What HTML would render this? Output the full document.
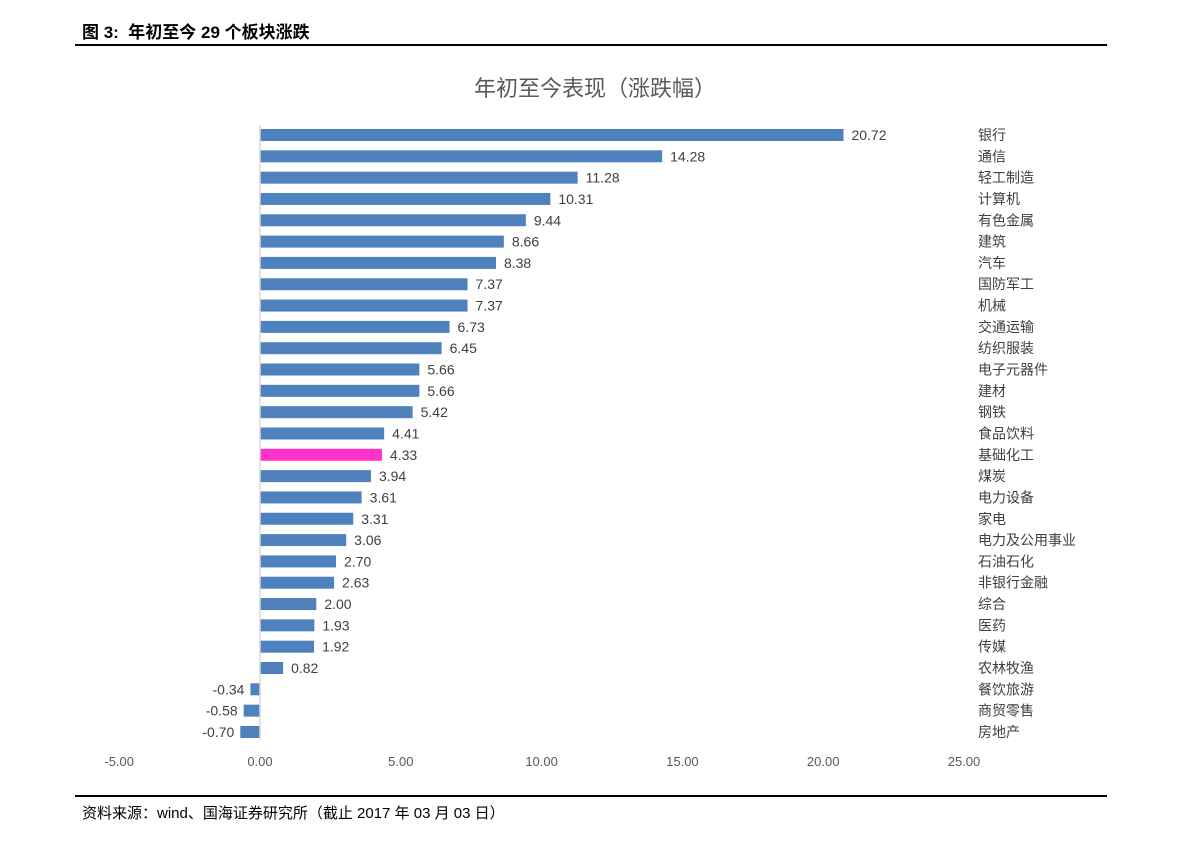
<!DOCTYPE html>
<html><head><meta charset="utf-8">
<style>
body{margin:0;background:#fff;width:1191px;height:842px;overflow:hidden;position:relative;font-family:"Liberation Sans","Noto Sans CJK SC",sans-serif;}
.h{position:absolute;left:82px;top:18px;font-size:17px;font-weight:bold;color:#000;}
.l1{position:absolute;left:75px;top:44px;width:1032px;height:1.5px;background:#000;}
.l2{position:absolute;left:75px;top:795px;width:1032px;height:1.5px;background:#000;}
.f{position:absolute;left:82px;top:802px;font-size:15px;color:#000;}
</style></head><body>
<div class="h">图 3:&nbsp; 年初至今 29 个板块涨跌</div>
<div class="l1"></div>
<svg id="s" width="1191" height="842" style="position:absolute;left:0;top:0" font-family="Liberation Sans, Noto Sans CJK SC, sans-serif"></svg>
<div class="l2"></div>
<div class="f">资料来源：wind、国海证券研究所（截止 2017 年 03 月 03 日）</div>
<script>
var d=[["银行",20.72],["通信",14.28],["轻工制造",11.28],["计算机",10.31],["有色金属",9.44],["建筑",8.66],["汽车",8.38],["国防军工",7.37],["机械",7.37],["交通运输",6.73],["纺织服装",6.45],["电子元器件",5.66],["建材",5.66],["钢铁",5.42],["食品饮料",4.41],["基础化工",4.33],["煤炭",3.94],["电力设备",3.61],["家电",3.31],["电力及公用事业",3.06],["石油石化",2.70],["非银行金融",2.63],["综合",2.00],["医药",1.93],["传媒",1.92],["农林牧渔",0.82],["餐饮旅游",-0.34],["商贸零售",-0.58],["房地产",-0.70]];
var x0=260,k=28.16,h='';
h+='<text x="595" y="96" font-size="22" fill="#595959" text-anchor="middle">年初至今表现（涨跌幅）</text>';
d.forEach(function(r,i){var t=129+i*21.32,v=r[1],w=Math.abs(v)*k,x=v<0?x0-w:x0;
h+='<rect x="'+x+'" y="'+t+'" width="'+w+'" height="12" fill="'+(i==15?'#FF33CC':'#4F81BD')+'"/>';
if(v>=0)h+='<text x="'+(x0+w+8)+'" y="'+(t+11)+'" font-size="14" fill="#404040">'+v.toFixed(2)+'</text>';
else h+='<text x="'+(x0-w-6)+'" y="'+(t+11)+'" font-size="14" fill="#404040" text-anchor="end">'+v.toFixed(2)+'</text>';
h+='<text x="978" y="'+(t+11)+'" font-size="14" fill="#404040">'+r[0]+'</text>';});
h+='<line x1="260" y1="125" x2="260" y2="740" stroke="#D9D9D9" stroke-width="1.5"/>';
for(var j=-5;j<=25;j+=5)h+='<text x="'+(x0+j*k)+'" y="766" font-size="13" fill="#595959" text-anchor="middle">'+j.toFixed(2)+'</text>';
document.getElementById('s').innerHTML=h;
</script>
</body></html>
